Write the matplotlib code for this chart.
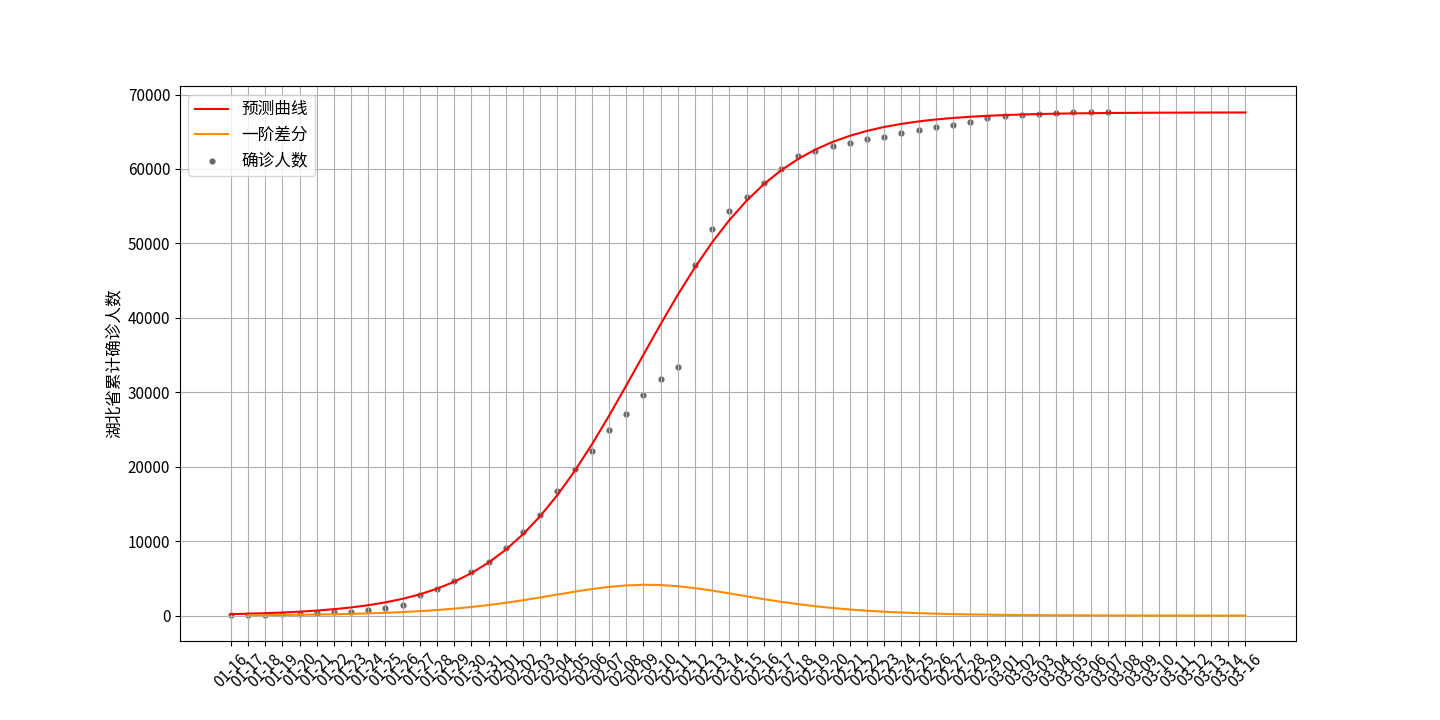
import numpy as np
import matplotlib
matplotlib.use('Agg')
import matplotlib.pyplot as plt

plt.rcParams['font.family'] = ['Noto Sans CJK SC', 'DejaVu Sans']
plt.rcParams['axes.unicode_minus'] = False
plt.rcParams['font.size'] = 12

# 日期标签 (03-15 缺失, 与原图一致)
dates = ['01-16', '01-17', '01-18', '01-19', '01-20', '01-21', '01-22', '01-23',
         '01-24', '01-25', '01-26', '01-27', '01-28', '01-29', '01-30', '01-31',
         '02-01', '02-02', '02-03', '02-04', '02-05', '02-06', '02-07', '02-08',
         '02-09', '02-10', '02-11', '02-12', '02-13', '02-14', '02-15', '02-16',
         '02-17', '02-18', '02-19', '02-20', '02-21', '02-22', '02-23', '02-24',
         '02-25', '02-26', '02-27', '02-28', '02-29', '03-01', '03-02', '03-03',
         '03-04', '03-05', '03-06', '03-07', '03-08', '03-09', '03-10', '03-11',
         '03-12', '03-13', '03-14', '03-16']

# 湖北省累计确诊 (01-16 ~ 03-07)
confirmed = [45, 62, 121, 198, 270, 375, 444, 549, 729, 1052, 1423, 2714, 3554,
             4586, 5806, 7153, 9074, 11177, 13522, 16678, 19665, 22112, 24953,
             27100, 29631, 31728, 33366, 47163, 51986, 54406, 56249, 58182,
             59989, 61682, 62457, 63088, 63454, 64084, 64287, 64786, 65187,
             65596, 65914, 66337, 66907, 67103, 67217, 67332, 67466, 67592,
             67666, 67707]

# 预测曲线
predicted = [200, 255, 326, 416, 531, 678, 864, 1100, 1401, 1780, 2259, 2861,
             3615, 4554, 5714, 7138, 8864, 10932, 13373, 16205, 19419, 22987,
             26845, 30901, 35045, 39151, 43101, 46794, 50155, 53142, 55738,
             57952, 59811, 61350, 62611, 63634, 64457, 65116, 65641, 66058,
             66388, 66648, 66853, 67014, 67141, 67240, 67318, 67380, 67427,
             67465, 67494, 67517, 67535, 67549, 67560, 67569, 67576, 67581,
             67585, 67588]

# 一阶差分 (从 01-17 开始)
first_diff = [55, 71, 90, 115, 146, 186, 237, 300, 379, 479, 602, 754, 939,
              1160, 1424, 1726, 2068, 2441, 2832, 3214, 3568, 3858, 4056, 4144,
              4106, 3950, 3693, 3361, 2987, 2596, 2214, 1859, 1539, 1261, 1023,
              823, 659, 525, 417, 330, 260, 205, 161, 127, 99, 78, 62, 47, 38,
              29, 23, 18, 14, 11, 9, 7, 5, 4, 3]

x = np.arange(len(dates))

fig, ax = plt.subplots(figsize=(14.4, 7.2), dpi=100)
ax.plot(x, predicted, color='red', label='预测曲线')
ax.plot(x[1:], first_diff, color='darkorange', label='一阶差分')
ax.scatter(x[:len(confirmed)], confirmed, color='dimgray', s=12, label='确诊人数')

ax.set_xticks(x)
ax.set_xticklabels(dates, rotation=45)
ax.tick_params(labelsize=11)
ax.set_ylabel('湖北省累计确诊人数')
ax.grid(True)
ax.legend(loc='upper left')

plt.savefig('out.png')
